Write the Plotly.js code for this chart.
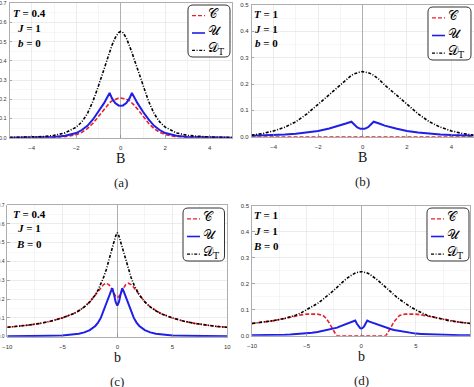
<!DOCTYPE html>
<html><head><meta charset="utf-8">
<script src="https://cdn.plot.ly/plotly-3.0.1.min.js"></script>
<style>html,body{margin:0;padding:0;background:#fff;}#chart{width:474px;height:387px;}</style>
</head><body><div id="chart"></div>
<script>
// ---------- data ----------
// (a) T=0.4, J=1, b=0 ; x = B
const B_a = [-5,-4.5,-4,-3.5,-3,-2.5,-2,-1.75,-1.5,-1.25,-1,-0.75,-0.6,-0.5,-0.4,-0.25,-0.1,0,0.1,0.25,0.4,0.5,0.6,0.75,1,1.25,1.5,1.75,2,2.5,3,3.5,4,4.5,5];
const C_a = [0,0,0.0005,0.001,0.002,0.005,0.016,0.028,0.047,0.075,0.11,0.15,0.17,0.182,0.192,0.201,0.206,0.207,0.206,0.201,0.192,0.182,0.17,0.15,0.11,0.075,0.047,0.028,0.016,0.005,0.002,0.001,0.0005,0,0];
const U_a = [0,0.0005,0.001,0.002,0.004,0.01,0.024,0.04,0.062,0.095,0.135,0.18,0.212,0.233,0.206,0.18,0.168,0.166,0.168,0.18,0.206,0.233,0.212,0.18,0.135,0.095,0.062,0.04,0.024,0.01,0.004,0.002,0.001,0.0005,0];
const D_a = [0.001,0.002,0.003,0.006,0.012,0.025,0.055,0.082,0.125,0.19,0.27,0.36,0.41,0.445,0.48,0.52,0.547,0.553,0.547,0.52,0.48,0.445,0.41,0.36,0.27,0.19,0.125,0.082,0.055,0.025,0.012,0.006,0.003,0.002,0.001];

// (b) T=1, J=1, b=0 ; x = B
const B_b = [-5,-4.5,-4,-3.5,-3,-2.5,-2,-1.5,-1,-0.75,-0.5,-0.4,-0.25,-0.1,0,0.1,0.25,0.4,0.5,0.75,1,1.5,2,2.5,3,3.5,4,4.5,5];
const C_b = [0,0,0,0,0,0,0,0,0,0,0,0,0,0,0,0,0,0,0,0,0,0,0,0,0,0,0,0,0];
const U_b = [0.004,0.005,0.006,0.008,0.011,0.016,0.022,0.031,0.042,0.05,0.057,0.047,0.036,0.03,0.029,0.03,0.036,0.047,0.057,0.05,0.042,0.031,0.022,0.016,0.011,0.008,0.006,0.005,0.004];
const D_b = [0.006,0.012,0.022,0.036,0.057,0.087,0.123,0.16,0.196,0.217,0.233,0.238,0.243,0.246,0.247,0.246,0.243,0.238,0.233,0.217,0.196,0.16,0.123,0.087,0.057,0.036,0.022,0.012,0.006];

// (c) T=0.4, J=1, B=0 ; x = b
const b_c = [-10,-9,-8,-7,-6,-5,-4,-3.5,-3,-2.5,-2,-1.75,-1.5,-1.25,-1,-0.75,-0.6,-0.45,-0.3,-0.15,0,0.15,0.3,0.45,0.6,0.75,1,1.25,1.5,1.75,2,2.5,3,3.5,4,5,6,7,8,9,10];
const C_c = [0.05,0.055,0.062,0.071,0.083,0.1,0.122,0.138,0.158,0.185,0.222,0.243,0.262,0.277,0.284,0.276,0.263,0.247,0.23,0.215,0.207,0.215,0.23,0.247,0.263,0.276,0.284,0.277,0.262,0.243,0.222,0.185,0.158,0.138,0.122,0.1,0.083,0.071,0.062,0.055,0.05];
const U_c = [0.002,0.002,0.003,0.004,0.005,0.007,0.012,0.016,0.023,0.035,0.057,0.075,0.1,0.135,0.175,0.215,0.238,0.258,0.225,0.185,0.165,0.185,0.225,0.258,0.238,0.215,0.175,0.135,0.1,0.075,0.057,0.035,0.023,0.016,0.012,0.007,0.005,0.004,0.003,0.002,0.002];
const D_c = [0.05,0.055,0.062,0.071,0.083,0.1,0.122,0.138,0.158,0.185,0.222,0.248,0.278,0.315,0.357,0.405,0.44,0.472,0.505,0.535,0.553,0.535,0.505,0.472,0.44,0.405,0.357,0.315,0.278,0.248,0.222,0.185,0.158,0.138,0.122,0.1,0.083,0.071,0.062,0.055,0.05];

// (d) T=1, J=1, B=0 ; x = b
const b_d = [-10,-9,-8,-7,-6.5,-6,-5.5,-5,-4.5,-4,-3.5,-3.25,-3,-2.75,-2.5,-2.3,-2.2,-2,-1.5,-1,-0.75,-0.55,-0.4,-0.25,-0.1,0,0.1,0.25,0.4,0.55,0.75,1,1.5,2,2.2,2.3,2.5,2.75,3,3.25,3.5,4,4.5,5,5.5,6,6.5,7,8,9,10];
const C_d = [0.047,0.052,0.058,0.066,0.071,0.076,0.08,0.083,0.084,0.083,0.078,0.068,0.054,0.035,0.016,0.003,0,0,0,0,0,0,0,0,0,0,0,0,0,0,0,0,0,0,0,0.003,0.016,0.035,0.054,0.068,0.078,0.083,0.084,0.083,0.08,0.076,0.071,0.066,0.058,0.052,0.047];
const U_d = [0.002,0.002,0.003,0.004,0.005,0.006,0.007,0.008,0.011,0.014,0.018,0.02,0.022,0.025,0.028,0.03,0.031,0.035,0.042,0.05,0.054,0.058,0.046,0.035,0.029,0.028,0.029,0.035,0.046,0.058,0.054,0.05,0.042,0.035,0.031,0.03,0.028,0.025,0.022,0.02,0.018,0.014,0.011,0.008,0.007,0.006,0.005,0.004,0.003,0.002,0.002];
const D_d = [0.047,0.052,0.058,0.067,0.073,0.079,0.088,0.099,0.111,0.124,0.14,0.148,0.156,0.165,0.175,0.183,0.187,0.195,0.214,0.23,0.237,0.241,0.243,0.245,0.246,0.246,0.246,0.245,0.243,0.241,0.237,0.23,0.214,0.195,0.187,0.183,0.175,0.165,0.156,0.148,0.14,0.124,0.111,0.099,0.088,0.079,0.073,0.067,0.058,0.052,0.047];

const seriesNames = ['𝒞', '𝒰', '𝒟<sub>T</sub>'];
const panelLabels = ['(a)', '(b)', '(c)', '(d)'];
const xTitles = ['B', 'B', 'b', 'b'];
const paramText = [
  ['<i>T</i> = 0.4', '<i>J</i> = 1', '<i>b</i> = 0'],
  ['<i>T</i> = 1', '<i>J</i> = 1', '<i>b</i> = 0'],
  ['<i>T</i> = 0.4', '<i>J</i> = 1', '<i>B</i> = 0'],
  ['<i>T</i> = 1', '<i>J</i> = 1', '<i>B</i> = 0']
];

// ---------- layout helpers ----------
const W = 474, H = 387;
const fx = v => v / W, fy = v => 1 - v / H;
const RED = '#e8202a', BLUE = '#1f1fe6', BLACK = '#000000';
const styles = [
  {color: RED, width: 1.6, dash: '4px,2px'},
  {color: BLUE, width: 2, dash: 'solid'},
  {color: BLACK, width: 1.6, dash: '3px,1.6px,1px,1.6px'}
];
const SERIF = 'Liberation Serif, serif';

// plot boxes in pixels [x0,x1,y0(top),y1(bottom)]
const boxes = [
  [9.5, 232, 3.3, 137.7],
  [251.5, 473.6, 5, 136.7],
  [7.3, 227.3, 205, 336.7],
  [252, 470.5, 205.7, 335.7]
];
const xr = [[-5,5],[-5,5],[-10,10],[-10,10]];
const yr = [[0,0.7],[0,0.5],[0,0.7],[0,0.5]];
const xdt = [2, 2, 5, 5];
const xMinor = [1, 1, 2.5, 2.5];
const legendBoxes = [
  [188, 230, 5, 57],
  [428, 471, 7, 60],
  [183, 224.5, 208, 261],
  [427, 469, 208, 261]
];
const paramPos = [
  [29, [13.5, 28, 43]],
  [266, [14, 29, 43.5]],
  [29, [213.5, 228, 243.5]],
  [266, [215, 231, 245.5]]
];
const yTickSize = [5.5, 6, 5, 6];

const xsets = [[B_a, C_a, U_a, D_a], [B_b, C_b, U_b, D_b], [b_c, C_c, U_c, D_c], [b_d, C_d, U_d, D_d]];

const traces = [];
const layout = {
  width: W, height: H, margin: {l: 0, r: 0, t: 0, b: 0},
  paper_bgcolor: '#fff', plot_bgcolor: '#fff', showlegend: false,
  annotations: [], shapes: []
};

function roundRect(x0, x1, y0, y1, r) {
  const P = (x, y) => fx(x).toFixed(5) + ',' + fy(y).toFixed(5);
  return 'M' + P(x0 + r, y0) + ' L' + P(x1 - r, y0) + ' Q' + P(x1, y0) + ' ' + P(x1, y0 + r) +
    ' L' + P(x1, y1 - r) + ' Q' + P(x1, y1) + ' ' + P(x1 - r, y1) +
    ' L' + P(x0 + r, y1) + ' Q' + P(x0, y1) + ' ' + P(x0, y1 - r) +
    ' L' + P(x0, y0 + r) + ' Q' + P(x0, y0) + ' ' + P(x0 + r, y0) + ' Z';
}

for (let i = 0; i < 4; i++) {
  const n = i === 0 ? '' : String(i + 1);
  const xa = 'x' + n, ya = 'y' + n;
  const [X, C, U, D] = xsets[i];
  [C, U, D].forEach((Y, k) => {
    traces.push({
      x: X, y: Y, xaxis: xa, yaxis: ya, type: 'scatter', mode: 'lines',
      name: seriesNames[k].replace(/<[^>]+>/g, ''),
      line: {color: styles[k].color, width: styles[k].width, dash: styles[k].dash, shape: 'linear'},
      hoverinfo: 'skip', cliponaxis: true
    });
  });
  const b = boxes[i];
  layout['xaxis' + n] = {
    domain: [fx(b[0]), fx(b[1])], anchor: ya, range: xr[i],
    tick0: 0, dtick: xdt[i], ticks: 'inside', ticklen: 2.5, tickcolor: '#888', tickwidth: 0.7,
    tickfont: {family: 'Liberation Sans, sans-serif', size: 6, color: '#333'},
    ticklabelstandoff: 4,
    showgrid: true, gridcolor: '#e4e4e4', gridwidth: 0.7,
    minor: {dtick: xMinor[i], tick0: 0, showgrid: true, gridcolor: '#ececec', gridwidth: 0.6},
    zeroline: true, zerolinecolor: '#b0b0b0', zerolinewidth: 1,
    showline: true, mirror: true, linecolor: '#9a9a9a', linewidth: 0.8,
    fixedrange: true
  };
  layout['yaxis' + n] = {
    domain: [fy(b[3]), fy(b[2])], anchor: xa, range: yr[i],
    tick0: 0, dtick: 0.1, tickformat: '.1f', ticks: 'inside', ticklen: 2.5, tickcolor: '#888', tickwidth: 0.7,
    tickfont: {family: 'Liberation Sans, sans-serif', size: yTickSize[i], color: '#333'},
    ticklabelstandoff: 1,
    showgrid: true, gridcolor: '#e4e4e4', gridwidth: 0.7,
    minor: {dtick: 0.05, showgrid: true, gridcolor: '#efefef', gridwidth: 0.5},
    zeroline: false,
    showline: true, mirror: true, linecolor: '#9a9a9a', linewidth: 0.8,
    fixedrange: true
  };
  const cx = (b[0] + b[1]) / 2;
  layout.annotations.push({
    xref: 'paper', yref: 'paper', x: fx(cx), y: fy(b[3] + 21), text: xTitles[i], showarrow: false,
    font: {family: SERIF, size: 14, color: '#111'}, xanchor: 'center', yanchor: 'middle'
  });
  layout.annotations.push({
    xref: 'paper', yref: 'paper', x: fx(cx), y: fy(b[3] + 45), text: panelLabels[i], showarrow: false,
    font: {family: SERIF, size: 13, color: '#222'}, xanchor: 'center', yanchor: 'middle'
  });
  const pp = paramPos[i];
  paramText[i].forEach((t, k) => {
    layout.annotations.push({
      xref: 'paper', yref: 'paper', x: fx(pp[0]), y: fy(pp[1][k]), text: '<b>' + t + '</b>', showarrow: false,
      font: {family: SERIF, size: 11, color: '#000'}, xanchor: 'center', yanchor: 'middle'
    });
  });
  const lb = legendBoxes[i];
  layout.shapes.push({
    type: 'path', xref: 'paper', yref: 'paper', path: roundRect(lb[0], lb[1], lb[2], lb[3], 5),
    line: {color: '#333', width: 1}, fillcolor: 'rgba(255,255,255,0.95)', layer: 'above'
  });
  const rowH = (lb[3] - lb[2]) / 3;
  for (let k = 0; k < 3; k++) {
    const yy = lb[2] + rowH * (k + 0.5) + 1;
    layout.shapes.push({
      type: 'line', xref: 'paper', yref: 'paper', layer: 'above',
      x0: fx(lb[0] + 4), x1: fx(lb[0] + 17), y0: fy(yy + 1), y1: fy(yy + 1),
      line: {color: styles[k].color, width: k === 1 ? 1.6 : 1.3, dash: styles[k].dash}
    });
    layout.annotations.push({
      xref: 'paper', yref: 'paper', x: fx(lb[0] + 18), y: fy(yy - 1), text: seriesNames[k], showarrow: false,
      font: {family: 'DejaVu Serif, serif', size: 13, color: '#000'}, xanchor: 'left', yanchor: 'middle'
    });
  }
}

Plotly.newPlot('chart', traces, layout, {staticPlot: true, displayModeBar: false});
</script>
</body></html>
